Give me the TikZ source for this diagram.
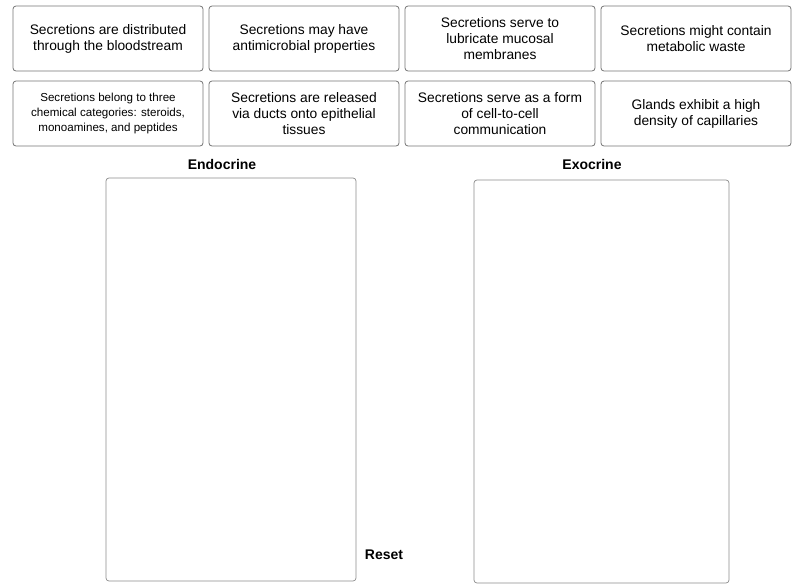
\documentclass[tikz,border=0pt]{standalone}
\usepackage{fontspec}
\setmainfont{Liberation Sans}
\begin{document}
\begin{tikzpicture}[x=1pt,y=-1pt,
  card/.style={draw=black!55,rounded corners=3pt,line width=0.8pt,minimum width=190pt,minimum height=65pt,align=center,font=\fontsize{13.8}{16}\selectfont,inner sep=1pt},
  smallcard/.style={card,font=\fontsize{11.6}{15}\selectfont},
  zone/.style={draw=black!45,rounded corners=3pt,line width=0.7pt},
  lbl/.style={font=\bfseries\fontsize{14}{15}\selectfont}]
\useasboundingbox (0,0) rectangle (806,587);
\node[card] (c1) at (108,38.5) {Secretions are distributed\\through the bloodstream};
\node[card] (c2) at (304,38.5) {Secretions may have\\antimicrobial properties};
\node[card] (c3) at (500,38.5) {Secretions serve to\\lubricate mucosal\\membranes};
\node[card] (c4) at (696,38.5) {Secretions might contain\\metabolic waste};
\node[smallcard] (c5) at (108,113.5) {Secretions belong to three\\chemical categories: steroids,\\monoamines, and peptides};
\node[card] (c6) at (304,113.5) {Secretions are released\\via ducts onto epithelial\\tissues};
\node[card] (c7) at (500,113.5) {Secretions serve as a form\\of cell-to-cell\\communication};
\node[card] (c8) at (696,113.5) {Glands exhibit a high\\density of capillaries};
\node[lbl] (endo) at (222,164) {Endocrine};
\node[lbl] (exo) at (592,164) {Exocrine};
\draw[zone] (106,178) rectangle (356,581);
\draw[zone] (474,180) rectangle (729,583);
\node[lbl] (reset) at (384,555) {Reset};
\end{tikzpicture}
\end{document}
